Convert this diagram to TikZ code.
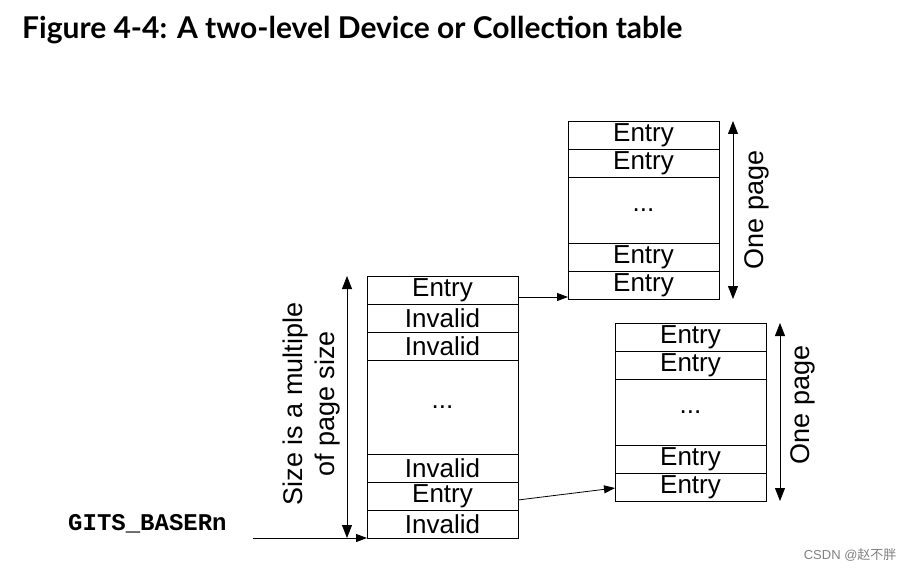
\documentclass[tikz,border=0pt]{standalone}
\usepackage{fontspec}
\setmainfont{Liberation Sans}
\newfontfamily\titlefont{Lato}
\newfontfamily\monofont{Liberation Mono}
\newfontfamily\cjk{Noto Sans CJK SC}
\usetikzlibrary{arrows.meta}
\begin{document}
\begin{tikzpicture}[x=1pt,y=-1pt,
  cell/.style={draw,thick,minimum width=151pt,inner sep=0pt,outer sep=0pt,font=\fontsize{26}{26}\selectfont,anchor=north west},
  conn/.style={-{Triangle[length=11pt,width=8pt]},thick},
  dbl/.style={{Triangle[length=13pt,width=10pt]}-{Triangle[length=13pt,width=10pt]},thick}]
\useasboundingbox (0,0) rectangle (913,572);
\node[anchor=west,inner sep=0pt,font=\titlefont\bfseries\fontsize{30}{30}\selectfont] (title) at (22,30) {Figure 4-4: A two-level Device or Collection table};
% main table
\node[cell,minimum height=28pt] (m1) at (367,276) {Entry};
\node[cell,minimum height=28pt] (m2) at (367,304) {Invalid};
\node[cell,minimum height=28pt] (m3) at (367,332) {Invalid};
\node[cell,minimum height=94pt] (m4) at (367,360) {...};
\node[cell,minimum height=28pt] (m5) at (367,454) {Invalid};
\node[cell,minimum height=28pt] (m6) at (367,482) {Entry};
\node[cell,minimum height=28pt] (m7) at (367,510) {Invalid};
% top right table
\node[cell,minimum height=28pt] (a1) at (568,121) {Entry};
\node[cell,minimum height=28pt] (a2) at (568,149) {Entry};
\node[cell,minimum height=66pt] (a3) at (568,177) {...};
\node[cell,minimum height=28pt] (a4) at (568,243) {Entry};
\node[cell,minimum height=28pt] (a5) at (568,271) {Entry};
% second table
\node[cell,minimum height=28pt] (b1) at (615,323) {Entry};
\node[cell,minimum height=28pt] (b2) at (615,351) {Entry};
\node[cell,minimum height=66pt] (b3) at (615,379) {...};
\node[cell,minimum height=28pt] (b4) at (615,445) {Entry};
\node[cell,minimum height=28pt] (b5) at (615,473) {Entry};
% connectors
\draw[conn] ([yshift=-7pt]m1.east) -- ([yshift=-7pt]m1.east -| a5.west);
\draw[conn] ([yshift=-4pt]m6.east) -- ([yshift=-1pt]b5.west);
\node[anchor=west,inner sep=0pt,font=\monofont\bfseries\fontsize{24}{24}\selectfont] (gits) at (68,524) {GITS\_BASERn};
\coordinate (gs) at (253,538);
\draw[conn] (gs) -- (gs -| m7.west);
% size arrows
\coordinate (s1) at (347,276); \coordinate (s2) at (347,538);
\draw[dbl] (s1) -- (s2);
\node[rotate=90,align=center,font=\fontsize{27}{32}\selectfont] (stxt) at (312,404) {Size is a multiple\\of page size};
\coordinate (p1) at (733,121); \coordinate (p2) at (733,299);
\draw[dbl] (p1) -- (p2);
\node[rotate=90,font=\fontsize{27}{27}\selectfont] (ptxt1) at (757,210) {One page};
\coordinate (q1) at (780,323); \coordinate (q2) at (780,501);
\draw[dbl] (q1) -- (q2);
\node[rotate=90,font=\fontsize{27}{27}\selectfont] (ptxt2) at (803,405) {One page};
\node[anchor=east,font=\fontsize{13}{13}\selectfont,text=gray] (csdn) at (900,555) {CSDN @{\cjk 赵不胖}};
\end{tikzpicture}
\end{document}
